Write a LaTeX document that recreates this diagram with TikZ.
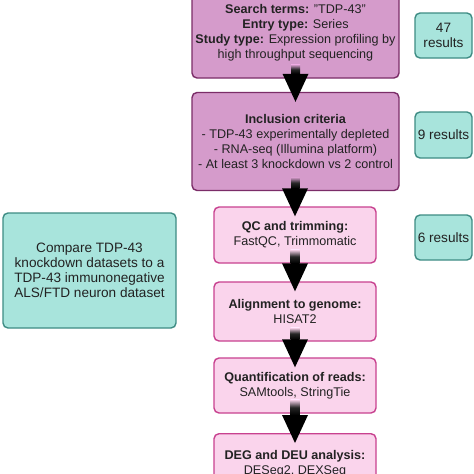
\documentclass[tikz,border=0pt]{standalone}
\usepackage{fontspec}
\setmainfont{Liberation Sans}
\usetikzlibrary{calc}
\definecolor{dkfill}{HTML}{D59BCB}
\definecolor{dkline}{HTML}{7B2D68}
\definecolor{ltfill}{HTML}{FAD4EC}
\definecolor{ltline}{HTML}{C8418F}
\definecolor{tlfill}{HTML}{A8E4DC}
\definecolor{tlline}{HTML}{3E8C84}
\definecolor{txt}{HTML}{222222}
\tikzset{
  box/.style={rounded corners=5pt, line width=1.4pt, align=center, inner sep=0pt,
    text=txt, font=\fontsize{12.6}{15}\selectfont},
  darkbox/.style={box, fill=dkfill, draw=dkline},
  lightbox/.style={box, fill=ltfill, draw=ltline},
  tealbox/.style={box, fill=tlfill, draw=tlline, font=\fontsize{13.6}{15}\selectfont},
}
\newcommand{\flowarrow}[3]{%
  \shade[top color=#3, bottom color=black, middle color=black!85]
    ($(#1.south)+(-4.5pt,14pt)$) rectangle ($(#2.north)+(4.5pt,-10pt+28pt)$);
  \fill[black] ($(#2.north)+(-13pt,-10pt+28pt)$) -- ($(#2.north)+(13pt,-10pt+28pt)$)
    -- ($(#2.north)+(0,-10pt)$) -- cycle;}
\begin{document}
\begin{tikzpicture}[x=1pt,y=-1pt]
\useasboundingbox (0,0) rectangle (474,474);
\clip (0,0) rectangle (474,474);
\fill[white] (0,0) rectangle (474,474);
% main column
\node[darkbox, minimum width=207pt, minimum height=90pt] (search) at (295.5,33)
  {\textbf{Search terms:} "TDP-43"\\ \textbf{Entry type:} Series\\
   \textbf{Study type:} Expression profiling by\\ high throughput sequencing};
\node[darkbox, minimum width=207pt, minimum height=98pt] (incl) at (295.5,141.5)
  {\textbf{Inclusion criteria}\\ - TDP-43 experimentally depleted\\
   - RNA-seq (Illumina platform)\\ - At least 3 knockdown vs 2 control};
\node[lightbox, minimum width=162pt, minimum height=56pt] (qc) at (295,235)
  {\textbf{QC and trimming:}\\ FastQC, Trimmomatic};
\node[lightbox, minimum width=162pt, minimum height=59pt] (align) at (295,311.5)
  {\textbf{Alignment to genome:}\\ HISAT2};
\node[lightbox, minimum width=162pt, minimum height=55pt] (quant) at (295,385.5)
  {\textbf{Quantification of reads:}\\ SAMtools, StringTie};
\node[lightbox, minimum width=162pt, minimum height=60pt, anchor=north] (deg) at (295,433)
  {\textbf{DEG and DEU analysis:}\\ DESeq2, DEXSeq};
% side boxes
\node[tealbox, minimum width=57pt, minimum height=45pt] (r47) at (443.5,35.5) {47\\ results};
\node[tealbox, minimum width=57pt, minimum height=46pt] (r9) at (443.5,135) {9 results};
\node[tealbox, minimum width=57pt, minimum height=45pt] (r6) at (443.5,237.5) {6 results};
\node[tealbox, minimum width=173pt, minimum height=115pt] (cmp) at (89.5,270.5)
  {Compare TDP-43\\ knockdown datasets to a\\ TDP-43 immunonegative\\ ALS/FTD neuron dataset};
% arrows
\flowarrow{search}{incl}{dkfill}
\flowarrow{incl}{qc}{dkfill}
\flowarrow{qc}{align}{ltfill}
\flowarrow{align}{quant}{ltfill}
\flowarrow{quant}{deg}{ltfill}
\end{tikzpicture}
\end{document}
